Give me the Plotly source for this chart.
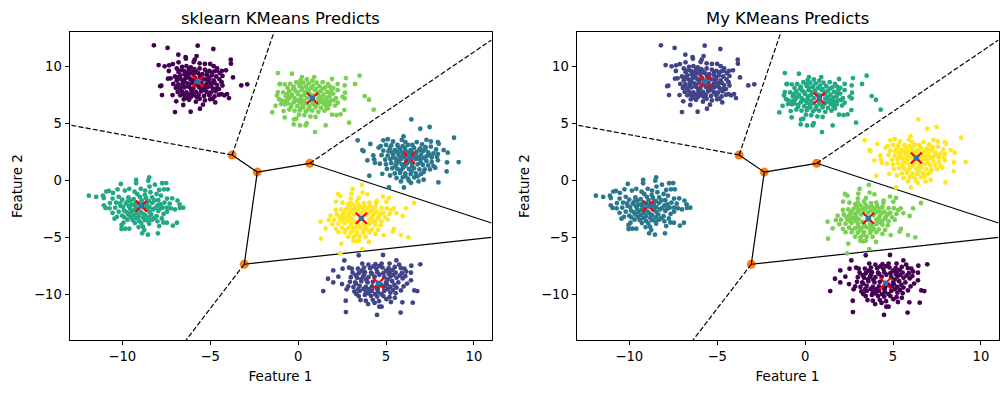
import plotly.graph_objects as go

top_left = [(-8.2,11.83),(-7.42,11.6),(-5.71,11.8),(-4.82,11.51),(-6.81,11.01),(-6.4,10.8),(-6.38,10.66),(-5.77,10.89),(-5.88,10.57),(-5.94,10.37),
(-7.93,10.1),(-7.59,9.99),(-7.33,10.08),(-7.12,10.19),(-6.8,10.34),(-3.83,10.57),(-3.82,10.22),(-7.35,9.58),(-7.4,8.91),(-7.25,8.94),(-3.7,9.02),(-4.1,9.64),(-4.33,9.6),
(-3.23,8.32),(-2.89,8.41),(-7.78,8.29),(-7.84,8.25),(-7.74,7.47),(-7.14,7.47),(-6.93,6.92),(-6.53,6.6),(-7.0,5.98),(-6.11,6.01),(-5.58,6.27),(-5.41,6.63),(-5.81,6.89),(-4.71,6.83),(-3.93,7.21),(-4.04,7.56),(-4.2,7.45),
(-6.9,9.8),(-6.6,9.95),(-6.35,10.0),(-6.1,9.9),(-5.6,10.25),(-5.3,10.2),(-5.0,10.2),(-4.8,10.0),(-4.6,9.8),(-6.8,9.5),(-6.5,9.6),(-6.2,9.7),(-5.9,9.75),(-5.6,9.8),(-5.3,9.7),(-5.05,9.6),(-4.75,9.55),(-4.45,9.4),
(-7.0,9.1),(-6.7,9.2),(-6.45,9.3),(-6.2,9.35),(-5.95,9.25),(-5.7,9.4),(-5.45,9.3),(-5.2,9.25),(-4.9,9.2),(-4.65,9.1),(-4.3,9.15),(-6.9,8.75),(-6.65,8.85),(-6.4,8.95),(-6.15,8.9),(-5.85,8.95),(-5.55,9.0),(-5.3,8.85),(-5.05,8.9),(-4.8,8.75),(-4.35,8.6),
(-7.1,8.45),(-6.8,8.4),(-6.55,8.55),(-6.3,8.5),(-6.05,8.55),(-5.8,8.4),(-5.5,8.55),(-5.2,8.45),(-4.95,8.5),(-4.6,8.35),(-4.3,8.3),(-6.95,8.1),(-6.7,8.05),(-6.45,8.15),(-6.2,8.2),(-5.95,8.1),(-5.65,8.2),(-5.4,8.1),(-5.15,8.15),(-4.85,8.05),(-4.5,8.0),
(-6.85,7.75),(-6.6,7.8),(-6.35,7.7),(-6.05,7.8),(-5.8,7.75),(-5.5,7.8),(-5.2,7.75),(-4.95,7.7),(-4.7,7.8),(-4.35,7.55),(-6.7,7.45),(-6.45,7.4),(-6.2,7.5),(-5.9,7.45),(-5.65,7.5),(-5.35,7.4),(-5.05,7.45),(-4.75,7.35),(-4.5,7.5),(-6.5,7.1),(-6.2,7.05),(-5.6,7.15),(-5.3,7.0),(-5.0,7.1),
(-5.45,8.95),(-6.0,8.75),(-5.1,8.7),(-6.55,8.3),(-4.75,8.55),(-5.35,7.95),(-6.1,7.3),(-4.9,9.45),(-6.0,9.5),
(-6.72,9.62),(-6.33,9.47),(-5.82,9.56),(-5.17,9.44),(-4.63,9.62),(-6.83,9.03),(-6.28,9.12),(-5.58,9.17),(-5.07,9.06),(-4.47,8.84),(-6.47,8.68),(-5.72,8.68),(-4.94,8.25),(-6.22,8.33),(-5.28,8.3),(-6.87,8.27),(-6.08,7.97),(-5.52,7.99),(-4.66,7.98),(-6.53,7.6),(-5.97,7.62),(-5.08,7.57),(-5.74,7.28),(-6.35,7.23),(-4.85,7.15)]

top_mid = [(-0.35,9.34),(0.22,9.05),(0.15,8.79),(0.92,9.05),(0.81,8.73),(2.72,8.96),(3.5,9.17),(1.93,8.88),(3.24,8.44),(2.25,8.44),(2.65,8.32),(2.67,7.68),(2.53,7.33),(2.65,7.18),(3.79,7.38),(4.03,7.06),(4.3,6.19),(2.63,6.16),(2.42,5.78),(2.19,5.72),(1.93,5.75),(2.9,5.05),(1.57,4.81),(0.96,4.23),(0.49,5.0),(0.43,4.81),(0.11,4.81),(-0.25,4.9),(-0.23,5.34),(-0.76,5.51),(-0.82,6.07),(-0.97,6.68),(-0.75,6.66),(-1.03,8.44),(-0.76,8.41),(-1.15,9.4),(-1.05,8.43),(-1.15,7.73),(-1.2,7.44),(-1.09,7.12),(-1.28,6.53),(-1.47,5.95),
(-0.45,8.45),(-0.1,8.6),(0.3,8.55),(0.6,8.5),(1.05,8.55),(1.4,8.6),(1.7,8.45),(2.0,8.1),(-0.6,8.1),(-0.25,8.2),(0.1,8.25),(0.45,8.2),(0.85,8.3),(1.2,8.25),(1.55,8.15),(1.9,7.95),(2.25,7.9),
(-0.85,7.7),(-0.5,7.8),(-0.15,7.85),(0.2,7.9),(0.55,7.85),(0.95,7.9),(1.3,7.85),(1.65,7.75),(2.0,7.6),(-0.7,7.35),(-0.35,7.5),(0.0,7.55),(0.35,7.5),(0.65,7.6),(1.1,7.55),(1.45,7.5),(1.8,7.4),(2.15,7.2),
(-0.95,7.0),(-0.55,7.1),(-0.2,7.2),(0.15,7.15),(0.5,7.2),(1.15,7.15),(1.5,7.05),(1.85,7.0),(2.25,6.8),(-0.6,6.75),(-0.25,6.85),(0.1,6.8),(0.45,6.75),(0.8,6.85),(1.15,6.75),(1.45,6.7),(1.8,6.65),(2.1,6.55),
(-0.4,6.45),(-0.05,6.5),(0.3,6.4),(0.65,6.5),(1.0,6.4),(1.3,6.35),(1.7,6.3),(-0.2,6.1),(0.1,6.15),(0.45,6.05),(0.8,6.1),(1.15,6.0),(1.5,6.1),(0.05,5.75),(0.35,5.7),(0.7,5.6),(1.0,5.55),(-0.1,5.4),
(0.5,8.85),(0.25,8.1),(1.0,8.0),(1.75,6.85),(-0.5,6.2),(0.9,6.65),(0.6,6.25),(1.3,7.3),
(-0.28,8.02),(0.07,8.43),(0.72,8.07),(1.42,8.03),(1.82,8.22),(-0.63,7.58),(-0.03,7.68),(0.42,7.72),(1.17,7.72),(1.84,7.67),(-0.47,7.28),(0.18,7.35),(0.85,7.45),(1.62,7.24),(2.02,7.02),(-0.72,6.93),(-0.08,7.02),(0.32,6.97),(1.32,6.93),(1.63,6.87),(-0.38,6.62),(0.28,6.62),(1.02,6.58),(1.6,6.52),(0.16,6.33)]

right_mid = [(6.44,5.34),(6.95,4.52),(7.48,4.67),(3.39,3.5),(4.11,3.18),(8.87,3.73),(3.65,2.65),(3.72,2.55),(4.58,2.86),(8.28,2.65),(8.51,2.42),(3.94,1.74),(4.28,2.18),(4.32,1.84),(4.37,1.54),(8.47,1.57),(9.13,1.6),(8.45,0.78),(4.05,0.4),(4.79,0.57),(5.23,0.42),(7.98,-0.19),(7.14,0.05),(6.85,-0.1),(6.42,-0.22),(6.02,-0.63),(5.17,-0.63),
(4.85,3.5),(5.1,3.6),(5.4,3.4),(5.9,3.55),(6.0,3.85),(6.1,3.35),(6.5,3.1),(6.75,3.35),(7.05,3.15),(7.3,3.55),(7.55,3.4),(7.95,3.35),(8.0,3.2),
(4.7,3.0),(5.0,3.1),(5.3,3.05),(5.65,3.1),(5.95,3.0),(6.25,3.1),(6.6,2.85),(6.95,2.8),(7.25,2.9),(7.55,2.95),(7.85,2.7),(4.85,2.6),(5.15,2.55),(5.5,2.65),(5.8,2.7),(6.1,2.6),(6.4,2.65),(6.75,2.5),(7.1,2.55),(7.4,2.45),(7.7,2.35),(7.95,2.3),
(4.75,2.2),(5.1,2.15),(5.4,2.25),(5.7,2.3),(6.0,2.2),(6.35,2.35),(6.7,2.15),(7.0,2.25),(7.3,2.1),(7.6,2.0),(7.9,2.05),(4.95,1.8),(5.25,1.85),(5.55,1.9),(5.85,1.85),(6.15,1.75),(6.7,1.85),(6.95,1.8),(7.3,1.7),(7.6,1.6),(7.95,1.75),
(4.65,1.45),(5.0,1.4),(5.3,1.5),(5.6,1.45),(5.9,1.4),(6.2,1.5),(6.5,1.45),(6.8,1.4),(7.1,1.35),(7.4,1.3),(7.7,1.25),(5.05,1.0),(5.35,1.05),(5.65,1.0),(5.95,1.05),(6.3,1.0),(6.6,1.05),(6.9,0.95),(7.2,0.95),(7.5,0.95),(7.8,1.1),
(5.5,0.6),(5.8,0.65),(6.1,0.6),(6.4,0.55),(6.7,0.6),(7.0,0.55),(5.6,0.2),(5.95,0.25),(6.25,0.15),(6.6,0.25),(5.85,-0.1),(6.3,-0.05),(5.6,1.65),(6.05,2.05),(6.9,2.05),(5.35,2.45),
(5.22,2.82),(5.72,2.88),(6.08,2.83),(6.52,2.42),(6.88,2.63),(7.22,2.72),(5.62,2.47),(5.93,2.43),(6.2,2.46),(6.58,1.97),(7.15,1.95),(7.48,2.2),(5.42,2.03),(5.78,2.08),(6.42,1.63),(5.72,1.65),(6.1,1.28),(6.48,1.25),(5.52,1.22),(6.97,1.58),(5.83,0.85),(6.45,0.8),(7.15,0.72),(6.1,0.38),(6.8,0.35)]

left_mid = [(-11.9,-1.35),(-11.48,-1.46),(-11.1,-1.35),(-11.05,-1.55),(-10.91,-0.99),(-10.76,-0.94),(-10.53,-1.11),(-10.08,-0.32),(-10.27,-0.79),(-9.21,0.03),(-9.21,-0.26),(-8.47,0.26),(-8.52,-0.03),(-8.14,-0.38),(-7.73,-0.26),(-7.5,-0.24),(-7.63,-0.79),(-7.41,-0.79),(-7.16,-1.58),(-6.86,-1.78),(-6.74,-2.11),(-6.53,-2.4),(-6.72,-2.42),(-7.0,-2.55),(-7.23,-2.46),(-7.45,-2.75),(-6.89,-3.72),(-7.12,-3.98),(-7.46,-3.72),(-7.66,-3.7),(-7.9,-4.01),(-7.97,-4.65),(-8.54,-4.77),(-8.87,-4.65),(-8.75,-4.36),(-9.07,-4.1),(-8.82,-4.07),(-8.47,-3.8),(-9.6,-4.24),(-9.83,-4.24),(-10.04,-4.27),(-10.04,-3.92),(-9.93,-3.72),(-10.44,-3.36),(-11.05,-2.19),(-10.95,-2.43),(-10.72,-2.46),
(-10.55,-1.6),(-10.2,-1.45),(-9.85,-0.9),(-9.6,-0.75),(-9.3,-1.0),(-8.95,-0.75),(-8.7,-0.9),(-8.4,-1.05),(-8.05,-1.2),(-7.8,-1.35),(-7.45,-1.6),
(-10.7,-2.0),(-10.35,-1.95),(-10.0,-1.7),(-9.65,-1.5),(-9.35,-1.65),(-9.0,-1.45),(-8.65,-1.55),(-8.3,-1.5),(-7.95,-1.75),(-7.6,-1.95),(-7.3,-2.05),
(-10.4,-2.4),(-10.1,-2.25),(-9.8,-2.05),(-9.5,-2.15),(-9.2,-1.95),(-8.6,-2.05),(-8.3,-2.0),(-8.0,-2.2),(-7.7,-2.4),(-7.45,-2.4),
(-10.55,-2.85),(-10.2,-2.75),(-9.9,-2.65),(-9.55,-2.5),(-9.3,-2.6),(-8.95,-2.75),(-8.6,-2.6),(-8.25,-2.55),(-7.95,-2.7),(-7.65,-2.95),
(-10.3,-3.2),(-10.0,-3.1),(-9.65,-3.0),(-9.35,-3.05),(-9.05,-3.15),(-8.7,-3.05),(-8.35,-3.0),(-8.05,-3.15),(-7.75,-3.35),(-9.7,-3.45),(-9.4,-3.5),(-9.05,-3.55),(-8.7,-3.5),(-8.3,-3.45),(-8.0,-3.6),
(-9.25,-2.3),(-8.45,-2.35),(-9.7,-1.85),(-9.05,-2.05),(-8.9,-1.75),(-9.75,-2.8),(-8.8,-3.3),(-9.15,-1.2),(-8.45,-0.55),(-9.95,-2.35),(-7.9,-0.85),
(-10.12,-2.02),(-9.52,-1.78),(-8.72,-1.28),(-8.17,-1.77),(-7.82,-2.12),(-9.32,-2.12),(-8.78,-2.08),(-8.48,-1.82),(-8.12,-2.42),(-9.62,-2.28),(-8.65,-2.38),(-7.85,-2.5),(-9.12,-2.5),(-8.45,-2.78),(-9.48,-2.78),(-9.18,-2.85),(-8.83,-2.92),(-9.88,-3.25),(-9.5,-3.22),(-9.2,-3.3),(-8.5,-3.25),(-8.18,-3.32),(-9.28,-3.75),(-8.92,-3.75),(-8.5,-3.62)]

center = [(3.63,-0.41),(3.1,-0.76),(3.03,-1.17),(2.27,-1.2),(2.4,-1.35),(3.94,-1.23),(3.67,-1.08),(3.46,-1.55),(4.83,-1.43),(5.17,-1.55),(5.02,-1.87),(4.47,-1.78),(6.59,-1.99),(6.14,-2.46),(5.44,-2.46),(5.59,-2.87),(5.95,-3.13),(2.16,-1.87),(2.52,-1.96),(1.28,-3.63),(1.57,-4.21),(1.3,-5.12),(2.46,-5.56),(2.4,-6.4),(3.65,-6.03),(3.29,-5.35),(4.03,-5.41),(3.84,-4.94),(4.87,-4.8),(5.85,-4.8),(6.27,-5.0),(5.38,-4.5),(5.45,-4.27),
(3.0,-1.6),(3.35,-1.85),(4.05,-1.95),(4.45,-2.0),(2.85,-2.1),(3.15,-2.2),(3.45,-2.15),(3.8,-2.3),(4.1,-2.25),(4.4,-2.35),(4.75,-2.45),(5.05,-2.45),(5.3,-2.6),
(2.15,-2.6),(2.45,-2.55),(2.75,-2.5),(3.05,-2.6),(3.4,-2.55),(3.75,-2.65),(4.15,-2.7),(4.5,-2.75),(4.85,-2.85),(5.2,-2.95),
(1.85,-3.1),(2.2,-3.0),(2.55,-3.0),(2.85,-2.95),(3.2,-3.0),(3.9,-3.05),(4.25,-3.1),(4.6,-3.15),(4.95,-3.25),(1.75,-3.5),(2.05,-3.45),(2.4,-3.4),(2.75,-3.35),(3.05,-3.4),(4.05,-3.45),(4.4,-3.55),(4.75,-3.6),(5.1,-3.45),
(1.95,-3.85),(2.3,-3.8),(2.65,-3.75),(3.0,-3.8),(3.35,-3.85),(3.7,-3.8),(4.05,-3.85),(4.4,-3.9),(4.7,-3.95),(2.15,-4.25),(2.5,-4.15),(2.85,-4.2),(3.2,-4.2),(3.55,-4.15),(3.9,-4.25),(4.2,-4.3),(4.55,-4.35),
(2.3,-4.55),(2.65,-4.55),(3.0,-4.6),(3.35,-4.55),(3.7,-4.6),(4.05,-4.55),(4.4,-4.7),(2.85,-4.95),(3.15,-5.0),(3.5,-4.95),(3.15,-5.3),(3.45,-5.3),(3.0,-1.95),(3.75,-2.0),(2.6,-3.2),(3.6,-3.5),(4.25,-2.5),(3.3,-4.8),
(2.92,-2.32),(3.28,-2.42),(3.6,-2.38),(3.95,-2.48),(2.62,-2.78),(2.98,-2.78),(3.3,-2.78),(3.58,-2.85),(3.98,-2.85),(4.35,-2.88),(4.72,-2.95),(2.35,-3.2),(2.9,-3.15),(4.2,-3.3),(4.55,-3.35),(2.55,-3.58),(2.9,-3.58),(3.25,-3.65),(4.2,-3.68),(3.02,-4.02),(3.42,-4.05),(3.8,-4.03),(2.68,-4.36),(3.1,-4.4),(3.75,-4.4)]

bottom = [(3.45,-6.58),(4.83,-6.55),(2.63,-7.02),(5.59,-7.02),(6.95,-7.37),(6.44,-7.49),(2.0,-7.9),(2.53,-7.75),(2.9,-7.66),(1.7,-8.63),(2.0,-8.95),(2.29,-8.45),(2.5,-9.1),(1.43,-9.71),(2.76,-9.56),(2.71,-10.56),(2.72,-11.55),(4.49,-11.8),(5.83,-11.6),(6.52,-10.73),(5.93,-10.7),(5.28,-10.67),(4.75,-11.08),(4.62,-11.08),(3.98,-10.85),(3.55,-10.5),(6.78,-9.71),(6.61,-9.65),(6.42,-8.77),(6.2,-9.05),(6.42,-8.1),(6.05,-7.75),
(3.65,-7.3),(4.0,-7.4),(4.4,-7.35),(4.75,-7.3),(5.2,-7.3),(5.75,-7.4),(3.05,-7.75),(3.4,-7.75),(3.75,-7.65),(4.1,-7.7),(4.45,-7.75),(4.8,-7.65),(5.15,-7.7),(5.5,-7.6),(5.85,-7.7),(6.15,-8.0),
(3.1,-8.1),(3.45,-8.15),(3.8,-8.05),(4.15,-8.1),(4.5,-8.05),(4.85,-8.15),(5.2,-8.05),(5.55,-8.1),(5.9,-8.15),(6.1,-8.4),(3.0,-8.5),(3.35,-8.55),(3.7,-8.45),(4.0,-8.5),(4.35,-8.45),(4.9,-8.5),(5.25,-8.45),(5.6,-8.55),(5.95,-8.6),
(2.95,-8.9),(3.25,-8.95),(3.6,-8.85),(3.95,-8.95),(4.25,-8.9),(5.0,-8.95),(5.35,-8.85),(5.7,-8.95),(6.0,-9.3),(2.85,-9.3),(3.15,-9.35),(3.5,-9.25),(3.85,-9.35),(4.2,-9.3),(4.55,-9.4),(4.9,-9.3),(5.25,-9.35),(5.6,-9.4),(5.85,-9.65),
(3.2,-9.75),(3.5,-9.7),(3.85,-9.75),(4.2,-9.7),(4.55,-9.8),(4.9,-9.7),(5.25,-9.85),(5.55,-9.9),(3.45,-10.15),(3.8,-10.05),(4.15,-10.15),(4.5,-10.2),(4.85,-10.15),(5.2,-10.25),(5.5,-10.3),(3.85,-10.55),(4.25,-10.5),(4.6,-10.6),
(4.2,-8.2),(3.3,-9.05),(5.1,-8.7),(4.5,-9.55),(3.75,-8.25),(5.4,-9.6),
(4.28,-7.55),(4.62,-7.52),(5.0,-7.92),(5.38,-7.85),(3.62,-7.92),(3.28,-8.32),(3.58,-8.68),(3.88,-8.72),(4.62,-8.28),(5.42,-8.28),(5.78,-8.35),(5.15,-8.22),(3.42,-9.55),(3.72,-9.52),(4.05,-9.55),(4.72,-9.15),(5.05,-9.12),(5.48,-9.18),(5.1,-9.55),(4.75,-9.98),(4.38,-9.98),(4.02,-9.92),(5.02,-10.42),(4.35,-10.75),(3.32,-9.98)]

clusters = [top_left, top_mid, right_mid, left_mid, center, bottom]
left_colors = ["#440154", "#7ad151", "#2a788e", "#22a884", "#fde725", "#414487"]
right_colors = ["#414487", "#22a884", "#fde725", "#2a788e", "#7ad151", "#440154"]
centroid_x = [-5.69, 0.81, 6.33, -8.92, 3.6, 4.57]
centroid_y = [8.67, 7.19, 1.96, -2.25, -3.33, -9.03]
vertex_x = [-3.75, -2.32, 0.66, -3.06]
vertex_y = [2.22, 0.72, 1.49, -7.36]
solid_edges = [((-3.75, 2.22), (-2.32, 0.72)), ((-2.32, 0.72), (0.66, 1.49)), ((-2.32, 0.72), (-3.06, -7.36)),
               ((0.66, 1.49), (11, -3.74)), ((-3.06, -7.36), (11, -5.0))]
dashed_edges = [((-3.75, 2.22), (-13, 4.85)), ((-3.75, 2.22), (-1.37, 13)),
                ((0.66, 1.49), (11, 12.3)), ((-3.06, -7.36), (-6.37, -14))]
tick_vals = [-10, -5, 0, 5, 10]
tick_text = ["\u221210", "\u22125", "0", "5", "10"]
titles = ["sklearn KMeans Predicts", "My KMeans Predicts"]

W, H = 1008, 393
L_T, L_B = 32, 340
panels = [(69.5, 491.5), (576.5, 998.5)]
fig = go.Figure()

def add_panel(idx, colors):
    xa, ya = ("x", "y") if idx == 0 else ("x2", "y2")
    fig.add_trace(go.Scatter(x=vertex_x, y=vertex_y, mode="markers", xaxis=xa, yaxis=ya,
                             marker=dict(color="#ff7f0e", size=9, line=dict(width=0))))
    for edges, dash in ((solid_edges, "solid"), (dashed_edges, "5px,2.2px")):
        for a, b in edges:
            fig.add_trace(go.Scatter(x=[a[0], b[0]], y=[a[1], b[1]], mode="lines", xaxis=xa, yaxis=ya,
                                     line=dict(color="black", width=1.2, dash=dash)))
    for pts, col in zip(clusters, colors):
        fig.add_trace(go.Scatter(x=[p[0] for p in pts], y=[p[1] for p in pts], mode="markers", xaxis=xa, yaxis=ya,
                                 marker=dict(color=col, size=4.8, line=dict(width=0))))
    fig.add_trace(go.Scatter(x=centroid_x, y=centroid_y, mode="markers", xaxis=xa, yaxis=ya,
                             marker=dict(symbol="x-thin", size=11, color="red", line=dict(color="red", width=2.2))))
    fig.add_trace(go.Scatter(x=centroid_x, y=centroid_y, mode="markers", xaxis=xa, yaxis=ya,
                             marker=dict(color="#1f77b4", size=5.5, line=dict(width=0))))

add_panel(0, left_colors)
add_panel(1, right_colors)

axis_common = dict(showgrid=False, zeroline=False, showline=True, linecolor="black", linewidth=1, mirror=True,
                   ticks="outside", ticklen=4, tickwidth=1, tickcolor="black", tickvals=tick_vals, ticktext=tick_text,
                   tickfont=dict(size=13.2, color="black"))
dom_y = [1 - L_B / H, 1 - L_T / H]
fig.update_layout(
    width=W, height=H, margin=dict(l=0, r=0, t=0, b=0), showlegend=False, plot_bgcolor="white", paper_bgcolor="white",
    font=dict(family="DejaVu Sans", color="black"),
    xaxis=dict(domain=[panels[0][0] / W, panels[0][1] / W], range=[-13, 11], anchor="y",
               title=dict(text="Feature 1", font=dict(size=13.5), standoff=8), **axis_common),
    yaxis=dict(domain=dom_y, range=[-14, 13], anchor="x",
               title=dict(text="Feature 2", font=dict(size=13.5), standoff=8), **axis_common),
    xaxis2=dict(domain=[panels[1][0] / W, panels[1][1] / W], range=[-13, 11], anchor="y2",
                title=dict(text="Feature 1", font=dict(size=13.5), standoff=8), **axis_common),
    yaxis2=dict(domain=dom_y, range=[-14, 13], anchor="x2",
                title=dict(text="Feature 2", font=dict(size=13.5), standoff=8), **axis_common),
)
for (x0, x1), t in zip(panels, titles):
    fig.add_annotation(text=t, xref="paper", yref="paper", x=(x0 + x1) / 2 / W, y=1 - 30 / H, xanchor="center",
                       yanchor="bottom", showarrow=False, font=dict(size=16.4, color="black"))

fig.write_html("out.html", config={"displayModeBar": False}, post_script="document.body.style.margin='0';")
